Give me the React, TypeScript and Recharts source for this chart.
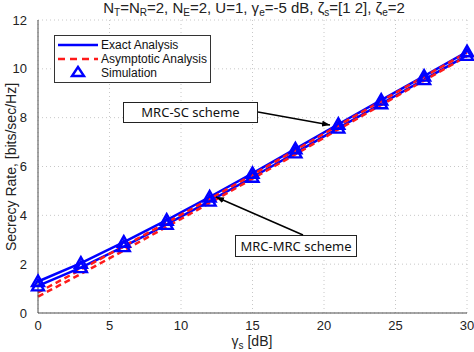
import React from "react";
import {
  LineChart,
  Line,
  XAxis,
  YAxis,
  CartesianGrid,
} from "recharts";

// gamma_s in dB
const snrDb = [0, 3, 6, 9, 12, 15, 18, 21, 24, 27, 30];

// MRC-SC scheme (upper curves)
const scExact = [1.29, 2.04, 2.9, 3.8, 4.75, 5.72, 6.72, 7.73, 8.72, 9.7, 10.7];
const scAsym = [0.84, 1.78, 2.74, 3.7, 4.67, 5.66, 6.67, 7.68, 8.68, 9.68, 10.67];
const scSim = [1.29, 2.04, 2.9, 3.8, 4.75, 5.72, 6.72, 7.73, 8.72, 9.7, 10.7];

// MRC-MRC scheme (lower curves)
const mrcExact = [1.11, 1.86, 2.72, 3.63, 4.58, 5.56, 6.56, 7.57, 8.57, 9.56, 10.55];
const mrcAsym = [0.67, 1.6, 2.56, 3.53, 4.5, 5.5, 6.5, 7.52, 8.52, 9.52, 10.52];
const mrcSim = [1.11, 1.86, 2.72, 3.63, 4.58, 5.56, 6.56, 7.57, 8.57, 9.56, 10.55];

const xTicks = [0, 5, 10, 15, 20, 25, 30];
const yTicks = [0, 2, 4, 6, 8, 10, 12];

const legendItems = ["Exact Analysis", "Asymptotic Analysis", "Simulation"];

const data = snrDb.map((x, i) => ({
  x,
  scExact: scExact[i],
  scAsym: scAsym[i],
  scSim: scSim[i],
  mrcExact: mrcExact[i],
  mrcAsym: mrcAsym[i],
  mrcSim: mrcSim[i],
}));

const FONT = "'Liberation Sans', Arial, sans-serif";
const BLUE = "#0000ff";
const RED = "#ff1a1a";
const AXIS = "#4d4d4d";

const Triangle = (props: any) => {
  const { cx, cy } = props;
  if (cx == null || cy == null) return null;
  const s = 6;
  return (
    <polygon
      points={`${cx},${cy - s} ${cx - s},${cy + s * 0.75} ${cx + s},${cy + s * 0.75}`}
      fill="none"
      stroke={BLUE}
      strokeWidth={2.4}
    />
  );
};

export default function App() {
  return (
    <div style={{ position: "absolute", left: 0, top: 0, width: 474, height: 352, background: "#fff" }}>
      <LineChart
        width={474}
        height={352}
        data={data}
        margin={{ top: 20, right: 7, bottom: 0, left: 0 }}
      >
        <CartesianGrid stroke="#c8c8c8" strokeDasharray="1 3" />
        <XAxis
          dataKey="x"
          type="number"
          domain={[0, 30]}
          ticks={xTicks}
          height={39}
          stroke={AXIS}
          tickLine={false}
          tick={{ fill: "#222", fontSize: 13, fontFamily: FONT }}
          tickMargin={2}
        />
        <XAxis
          xAxisId="top"
          dataKey="x"
          type="number"
          orientation="top"
          domain={[0, 30]}
          ticks={xTicks}
          height={0}
          stroke={AXIS}
          tick={false}
          tickLine={false}
        />
        <YAxis
          type="number"
          domain={[0, 12]}
          ticks={yTicks}
          width={38}
          stroke={AXIS}
          tickLine={false}
          tick={{ fill: "#222", fontSize: 13, fontFamily: FONT }}
          tickMargin={5}
        />
        <YAxis
          yAxisId="right"
          type="number"
          orientation="right"
          domain={[0, 12]}
          ticks={yTicks}
          width={0}
          stroke={AXIS}
          tick={false}
          tickLine={false}
        />
        <Line dataKey="scExact" stroke={BLUE} strokeWidth={2.5} dot={false} isAnimationActive={false} />
        <Line dataKey="mrcExact" stroke={BLUE} strokeWidth={2.5} dot={false} isAnimationActive={false} />
        <Line dataKey="scAsym" stroke={RED} strokeWidth={2.5} strokeDasharray="6 4" dot={false} isAnimationActive={false} />
        <Line dataKey="mrcAsym" stroke={RED} strokeWidth={2.5} strokeDasharray="6 4" dot={false} isAnimationActive={false} />
        <Line dataKey="scSim" stroke="none" dot={<Triangle />} activeDot={false} isAnimationActive={false} />
        <Line dataKey="mrcSim" stroke="none" dot={<Triangle />} activeDot={false} isAnimationActive={false} />
      </LineChart>

      <svg
        width={474}
        height={352}
        style={{ position: "absolute", left: 0, top: 0, pointerEvents: "none" }}
        fontFamily={FONT}
      >
        <defs>
          <marker id="arr" markerWidth="8" markerHeight="6" refX="8" refY="3" orient="auto" markerUnits="userSpaceOnUse">
            <path d="M0,0 L8,3 L0,6 Z" fill="#000" />
          </marker>
        </defs>

        {/* title */}
        <text x={254} y={13} textAnchor="middle" fontSize={15} fill="#222">
          N<tspan fontSize={10} dy={3}>T</tspan>
          <tspan dy={-3}>=N</tspan><tspan fontSize={10} dy={3}>R</tspan>
          <tspan dy={-3}>=2, N</tspan><tspan fontSize={10} dy={3}>E</tspan>
          <tspan dy={-3}>=2, U=1, γ</tspan><tspan fontSize={10} dy={3}>e</tspan>
          <tspan dy={-3}>=-5 dB, ζ</tspan><tspan fontSize={10} dy={3}>s</tspan>
          <tspan dy={-3}>=[1 2], ζ</tspan><tspan fontSize={10} dy={3}>e</tspan>
          <tspan dy={-3}>=2</tspan>
        </text>

        {/* axis labels */}
        <text x={252} y={346} textAnchor="middle" fontSize={14} fill="#222">
          γ<tspan fontSize={10} dy={3}>s</tspan>
          <tspan dy={-3}> [dB]</tspan>
        </text>
        <text
          x={12}
          y={167}
          textAnchor="middle"
          fontSize={14}
          fill="#222"
          transform="rotate(-90 12 167)"
          dominantBaseline="middle"
        >
          Secrecy Rate, [bits/sec/Hz]
        </text>

        {/* legend */}
        <rect x={54.5} y={35.5} width={156} height={47} fill="#fff" stroke="#333" strokeWidth={1} />
        <line x1={58} y1={45} x2={98} y2={45} stroke={BLUE} strokeWidth={2.5} />
        <line x1={58} y1={59} x2={98} y2={59} stroke={RED} strokeWidth={2.5} strokeDasharray="7 5" />
        <polygon points="78,67 72,76 84,76" fill="none" stroke={BLUE} strokeWidth={2.4} />
        {legendItems.map((t, i) => (
          <text key={t} x={101} y={49 + i * 14} fontSize={12} fill="#111">
            {t}
          </text>
        ))}

        {/* annotations */}
        <rect x={123.5} y={102.5} width={134} height={20} fill="#fff" stroke="#222" strokeWidth={1} />
        <text x={190.5} y={117} textAnchor="middle" fontSize={13} fill="#111" fontFamily="'Noto Sans', sans-serif">
          MRC-SC scheme
        </text>
        <line x1={258} y1={112} x2={330} y2={125} stroke="#000" strokeWidth={1.5} markerEnd="url(#arr)" />

        <rect x={235.5} y={235.5} width={121} height={21} fill="#fff" stroke="#222" strokeWidth={1} />
        <text x={296} y={250.5} textAnchor="middle" fontSize={13} fill="#111" fontFamily="'Noto Sans', sans-serif">
          MRC-MRC scheme
        </text>
        <line x1={303} y1={235} x2={216} y2={197} stroke="#000" strokeWidth={1.5} markerEnd="url(#arr)" />
      </svg>
    </div>
  );
}
